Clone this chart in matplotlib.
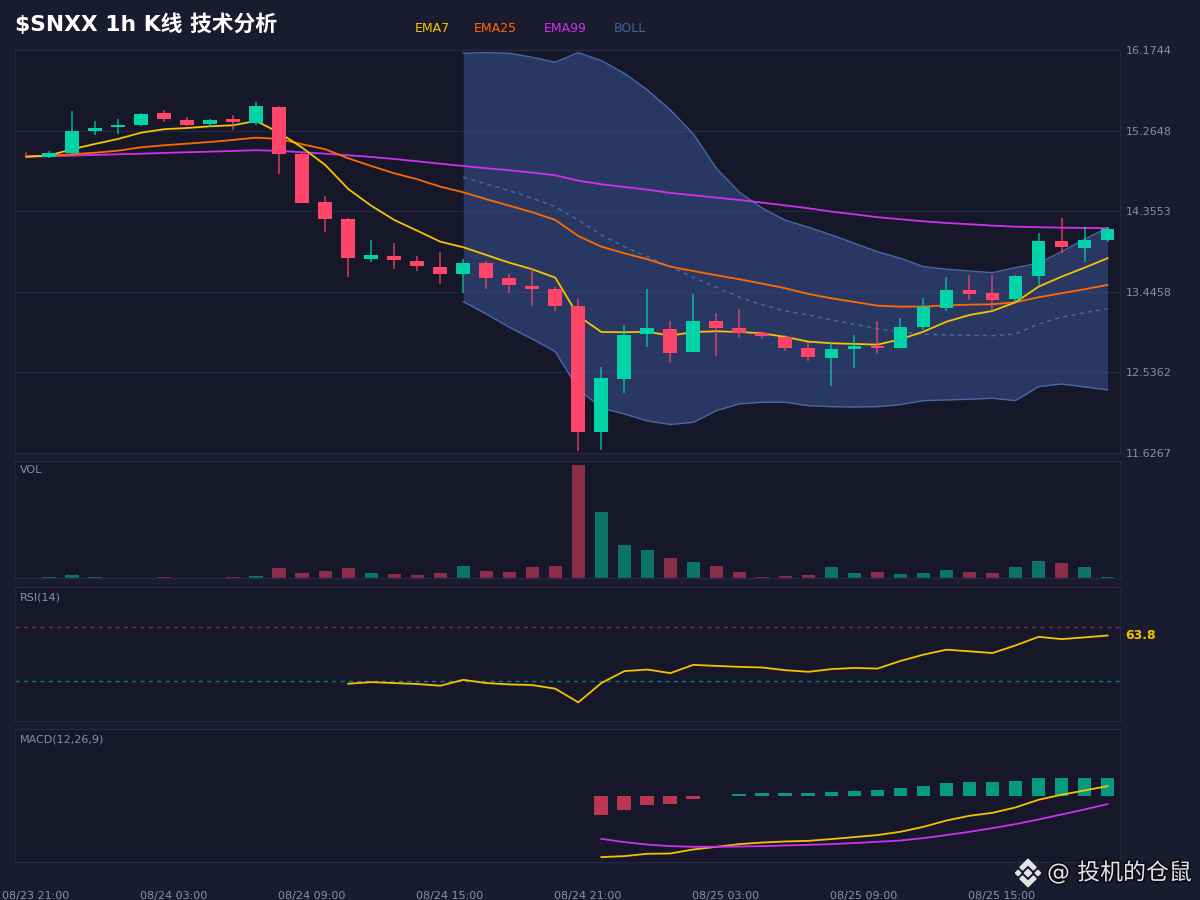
import matplotlib.pyplot as plt
import matplotlib.patheffects as pe
from matplotlib.patches import Polygon
import numpy as np

plt.rcParams['font.family'] = ['DejaVu Sans', 'Noto Sans CJK SC']

# --- datos (velas de 1h) ---
opens = [14.978, 14.970, 15.009, 15.264, 15.302, 15.325, 15.460, 15.388, 15.343, 15.392,
         15.354, 15.531, 15.004, 14.456, 14.267, 13.819, 13.850, 13.790, 13.729, 13.643,
         13.767, 13.598, 13.515, 13.477, 13.289, 11.860, 12.462, 12.973, 13.029, 12.770,
         13.120, 13.041, 12.977, 12.939, 12.808, 12.702, 12.800, 12.838, 12.808, 13.049,
         13.260, 13.470, 13.429, 13.361, 13.624, 14.019, 13.943, 14.030]
highs = [15.023, 15.035, 15.486, 15.373, 15.392, 15.460, 15.501, 15.418, 15.396, 15.441,
         15.591, 15.546, 15.012, 14.527, 14.275, 14.030, 13.996, 13.850, 13.892, 13.816,
         13.793, 13.643, 13.700, 13.500, 13.361, 12.601, 13.071, 13.481, 13.120, 13.421,
         13.210, 13.255, 12.996, 12.958, 12.879, 12.879, 12.962, 13.116, 13.150, 13.372,
         13.613, 13.639, 13.632, 13.636, 14.113, 14.282, 14.179, 14.179]
lows = [14.967, 14.956, 14.999, 15.219, 15.230, 15.317, 15.362, 15.317, 15.309, 15.272,
        15.331, 14.772, 14.448, 14.121, 13.616, 13.782, 13.707, 13.680, 13.530, 13.429,
        13.474, 13.436, 13.289, 13.233, 11.653, 11.661, 12.300, 12.826, 12.646, 12.770,
        12.721, 12.921, 12.917, 12.781, 12.668, 12.383, 12.589, 12.740, 12.808, 13.015,
        13.233, 13.353, 13.233, 13.335, 13.523, 13.887, 13.782, 14.011]
closes = [14.973, 15.009, 15.260, 15.291, 15.328, 15.449, 15.392, 15.331, 15.381, 15.362,
          15.539, 15.004, 14.451, 14.271, 13.824, 13.861, 13.805, 13.740, 13.643, 13.767,
          13.602, 13.523, 13.481, 13.289, 11.860, 12.470, 12.958, 13.034, 12.759, 13.120,
          13.041, 12.984, 12.944, 12.808, 12.710, 12.797, 12.838, 12.808, 13.049, 13.271,
          13.470, 13.421, 13.353, 13.621, 14.019, 13.955, 14.030, 14.151]
volumes = [2, 3, 10, 4, 1, 1, 4, 1, 1, 5, 6, 32, 17, 21, 32, 15, 13, 10, 16, 37,
           23, 20, 35, 36, 340, 199, 100, 85, 60, 48, 37, 20, 4, 7, 10, 34, 15, 19, 13, 16,
           25, 19, 16, 35, 52, 45, 34, 3]

ema7 = [14.970, 14.984, 15.054, 15.114, 15.170, 15.241, 15.280, 15.294, 15.313, 15.325,
        15.373, 15.241, 15.072, 14.877, 14.606, 14.417, 14.256, 14.135, 14.011, 13.948,
        13.861, 13.774, 13.700, 13.605, 13.173, 12.992, 12.989, 12.995, 12.950, 12.992,
        13.000, 12.992, 12.977, 12.936, 12.883, 12.865, 12.857, 12.849, 12.910, 12.995,
        13.108, 13.184, 13.229, 13.327, 13.503, 13.616, 13.718, 13.824]
ema25 = [14.970, 14.982, 14.997, 15.015, 15.038, 15.076, 15.099, 15.117, 15.136, 15.159,
         15.185, 15.170, 15.110, 15.054, 14.952, 14.865, 14.783, 14.715, 14.632, 14.569,
         14.490, 14.417, 14.343, 14.256, 14.075, 13.955, 13.880, 13.813, 13.729, 13.680,
         13.632, 13.587, 13.537, 13.485, 13.421, 13.372, 13.331, 13.289, 13.278, 13.278,
         13.293, 13.300, 13.305, 13.327, 13.384, 13.429, 13.474, 13.523]
ema99 = [14.970, 14.975, 14.982, 14.990, 14.997, 15.004, 15.012, 15.020, 15.027, 15.035,
         15.043, 15.035, 15.020, 15.004, 14.986, 14.967, 14.944, 14.918, 14.891, 14.865,
         14.839, 14.817, 14.790, 14.760, 14.700, 14.659, 14.628, 14.598, 14.561, 14.535,
         14.508, 14.482, 14.451, 14.420, 14.388, 14.350, 14.320, 14.287, 14.264, 14.241,
         14.222, 14.208, 14.192, 14.180, 14.174, 14.169, 14.166, 14.162]

# BOLL(20,2) desde la vela 19
boll_start = 19
boll_up = [16.137, 16.144, 16.137, 16.092, 16.036, 16.144, 16.054, 15.911, 15.723, 15.497,
           15.227, 14.839, 14.569, 14.388, 14.253, 14.174, 14.087, 13.993, 13.898, 13.824,
           13.729, 13.700, 13.680, 13.661, 13.718, 13.767, 13.898, 14.038, 14.169]
boll_mid = [14.738, 14.662, 14.587, 14.501, 14.406, 14.256, 14.087, 13.955, 13.842, 13.729,
            13.609, 13.497, 13.384, 13.297, 13.229, 13.184, 13.128, 13.079, 13.029, 12.992,
            12.966, 12.958, 12.955, 12.950, 12.970, 13.082, 13.158, 13.210, 13.255]
boll_low = [13.334, 13.195, 13.045, 12.913, 12.770, 12.349, 12.135, 12.067, 11.988, 11.948,
            11.973, 12.104, 12.180, 12.199, 12.199, 12.160, 12.149, 12.146, 12.149, 12.172,
            12.217, 12.225, 12.233, 12.244, 12.217, 12.375, 12.405, 12.372, 12.338]

# RSI(14) desde la vela 14
rsi_start = 14
rsi = [27.8, 29.0, 28.3, 27.6, 26.3, 30.7, 28.3, 27.3, 26.8, 24.1, 13.9, 28.3, 37.2, 38.4,
       35.7, 41.9, 41.1, 40.4, 39.9, 37.9, 36.7, 38.7, 39.6, 39.1, 44.8, 49.5, 53.2, 52.0,
       50.7, 56.4, 62.8, 61.1, 62.4, 63.8]

# MACD(12,26,9) desde la vela 25
macd_start = 25
dif = [-0.766, -0.754, -0.725, -0.721, -0.671, -0.638, -0.604, -0.584, -0.571, -0.563,
       -0.541, -0.516, -0.491, -0.450, -0.388, -0.309, -0.250, -0.213, -0.146, -0.050,
       0.013, 0.066, 0.121]
dea = [-0.538, -0.579, -0.609, -0.629, -0.638, -0.638, -0.634, -0.629, -0.621, -0.613,
       -0.604, -0.591, -0.575, -0.559, -0.529, -0.491, -0.450, -0.404, -0.354, -0.296,
       -0.234, -0.171, -0.104]
macd_hist = [-0.238, -0.179, -0.121, -0.100, -0.042, -0.004, 0.021, 0.038, 0.038, 0.038,
             0.046, 0.058, 0.067, 0.092, 0.125, 0.158, 0.171, 0.167, 0.183, 0.217,
             0.225, 0.225, 0.225]

price_ticks = [16.1744, 15.2648, 14.3553, 13.4458, 12.5362, 11.6267]
time_labels = ['08/23 21:00', '08/24 03:00', '08/24 09:00', '08/24 15:00',
               '08/24 21:00', '08/25 03:00', '08/25 09:00', '08/25 15:00']
label_every = 6

# colores
fig_bg = '#1a1b2e'
panel_bg = '#161729'
frame = '#262840'
txt_gray = '#8a8ea8'
up_col = '#00d4a8'
down_col = '#ff4569'
c_ema7 = '#f5c400'
c_ema25 = '#ff6a00'
c_ema99 = '#d030f0'
c_boll = '#4a68a8'

fig = plt.figure(figsize=(12, 9), dpi=100, facecolor=fig_bg)

L, W = 0.0125, 0.9208
ax = fig.add_axes([L, 0.4967, W, 0.4478])
ax_vol = fig.add_axes([L, 0.3574, W, 0.1303], sharex=ax)
ax_rsi = fig.add_axes([L, 0.1989, W, 0.1489], sharex=ax)
ax_macd = fig.add_axes([L, 0.0419, W, 0.1478], sharex=ax)

for a in (ax, ax_vol, ax_rsi, ax_macd):
    a.set_facecolor(panel_bg)
    for s in a.spines.values():
        s.set_color(frame)
        s.set_linewidth(1)
    a.tick_params(length=0, colors=txt_gray, labelsize=8)
    a.tick_params(axis='x', labelbottom=False)
    a.set_yticks([])

n = len(closes)
x = np.arange(n)
o = np.array(opens)
c = np.array(closes)
up = c >= o
colors = [up_col if u else down_col for u in up]

# --- panel principal ---
ax.set_xlim(-0.48, 47.54)
ax.set_ylim(price_ticks[-1], price_ticks[0])
for t in price_ticks[1:-1]:
    ax.axhline(t, color='#24263c', lw=1, zorder=0)

xb = x[boll_start:]
ax.fill_between(xb, boll_low, boll_up, color='#3d5a9e', alpha=0.5, lw=0, zorder=1)
ax.plot(xb, boll_up, color=c_boll, lw=1, zorder=2)
ax.plot(xb, boll_low, color=c_boll, lw=1, zorder=2)
ax.plot(xb, boll_mid, color=c_boll, lw=1, ls=(0, (3, 3)), zorder=2)

ax.plot(x, ema99, color=c_ema99, lw=1.3, zorder=3)
ax.plot(x, ema25, color=c_ema25, lw=1.3, zorder=3)
ax.plot(x, ema7, color=c_ema7, lw=1.3, zorder=3)

ax.vlines(x, lows, highs, colors=colors, lw=1.2, alpha=0.75, zorder=4)
body_h = np.maximum(np.abs(c - o), 0.005)
ax.bar(x, body_h, bottom=np.minimum(o, c), width=0.6, color=colors, zorder=5)

ax.yaxis.tick_right()
ax.set_yticks(price_ticks)
ax.set_yticklabels([f'{t:.4f}' for t in price_ticks])
ax.tick_params(axis='y', pad=4, labelsize=8, colors=txt_gray)

# --- volumen ---
ax_vol.bar(x, volumes, width=0.58, color=colors, alpha=0.5)
ax_vol.set_ylim(0, max(volumes) * 1.035)
ax_vol.text(0.004, 0.92, 'VOL', transform=ax_vol.transAxes, color=txt_gray,
            fontsize=8, va='center')

# --- RSI ---
xr = x[rsi_start:]
ax_rsi.set_ylim(0, 100)
ax_rsi.axhline(70, color='#8a2c50', lw=1, ls=(0, (3, 3)))
ax_rsi.axhline(30, color='#1a7a72', lw=1, ls=(0, (3, 3)))
ax_rsi.plot(xr, rsi, color=c_ema7, lw=1.3)
ax_rsi.text(1.0045, rsi[-1], f'{rsi[-1]:.1f}', transform=ax_rsi.get_yaxis_transform(),
            color=c_ema7, fontsize=9, fontweight='bold', va='center', ha='left')
ax_rsi.text(0.004, 0.92, 'RSI(14)', transform=ax_rsi.transAxes, color=txt_gray,
            fontsize=8, va='center')

# --- MACD ---
xm = x[macd_start:]
hist = np.array(macd_hist)
hcol = [up_col if h >= 0 else down_col for h in hist]
ax_macd.bar(xm, hist, width=0.6, color=hcol, alpha=0.7)
ax_macd.plot(xm, dif, color=c_ema7, lw=1.3)
ax_macd.plot(xm, dea, color=c_ema99, lw=1.3)
lim = max(np.abs(dif).max(), np.abs(dea).max()) * 1.085
ax_macd.set_ylim(-lim, lim)
ax_macd.text(0.004, 0.92, 'MACD(12,26,9)', transform=ax_macd.transAxes, color=txt_gray,
             fontsize=8, va='center')

ax_macd.set_xticks(x[::label_every] + 0.4)
ax_macd.set_xticklabels(time_labels)
ax_macd.tick_params(axis='x', labelbottom=True, pad=21, labelsize=8, colors=txt_gray)

# --- titulo y leyenda ---
fig.text(15 / 1200, 1 - 24 / 900, '$SNXX 1h K线 技术分析', color='white', fontsize=15.7,
         fontweight='bold', va='center', ha='left')
legend_items = [('EMA7', c_ema7, 432), ('EMA25', c_ema25, 495),
                ('EMA99', c_ema99, 565), ('BOLL', '#4a5f9e', 630)]
for name, col, px in legend_items:
    fig.text(px / 1200, 1 - 28 / 900, name, color=col, fontsize=9, ha='center', va='center')

# --- marca de agua ---
lax = fig.add_axes([1013 / 1200, 1 - 888 / 900, 30 / 1200, 30 / 900])
lax.set_xlim(-0.5, 0.5)
lax.set_ylim(-0.5, 0.5)
lax.axis('off')
logo_col = '#e4e4e4'


def diamond(cx, cy, r):
    return [(cx, cy + r), (cx + r, cy), (cx, cy - r), (cx - r, cy)]


for shape in (diamond(0, 0, 0.12), diamond(-0.33, 0, 0.09), diamond(0.33, 0, 0.09),
              [(-0.27, 0.19), (0, 0.46), (0.27, 0.19), (0.18, 0.10), (0, 0.28), (-0.18, 0.10)],
              [(-0.27, -0.19), (0, -0.46), (0.27, -0.19), (0.18, -0.10), (0, -0.28), (-0.18, -0.10)]):
    lax.add_patch(Polygon(shape, closed=True, color=logo_col))

fig.text(1047 / 1200, 1 - 873 / 900, '@ 投机的仓鼠', color=logo_col, fontsize=16.5,
         ha='left', va='center',
         path_effects=[pe.withStroke(linewidth=2.5, foreground='#0c0c16')])

fig.savefig('out.png', dpi=100, facecolor=fig_bg)
